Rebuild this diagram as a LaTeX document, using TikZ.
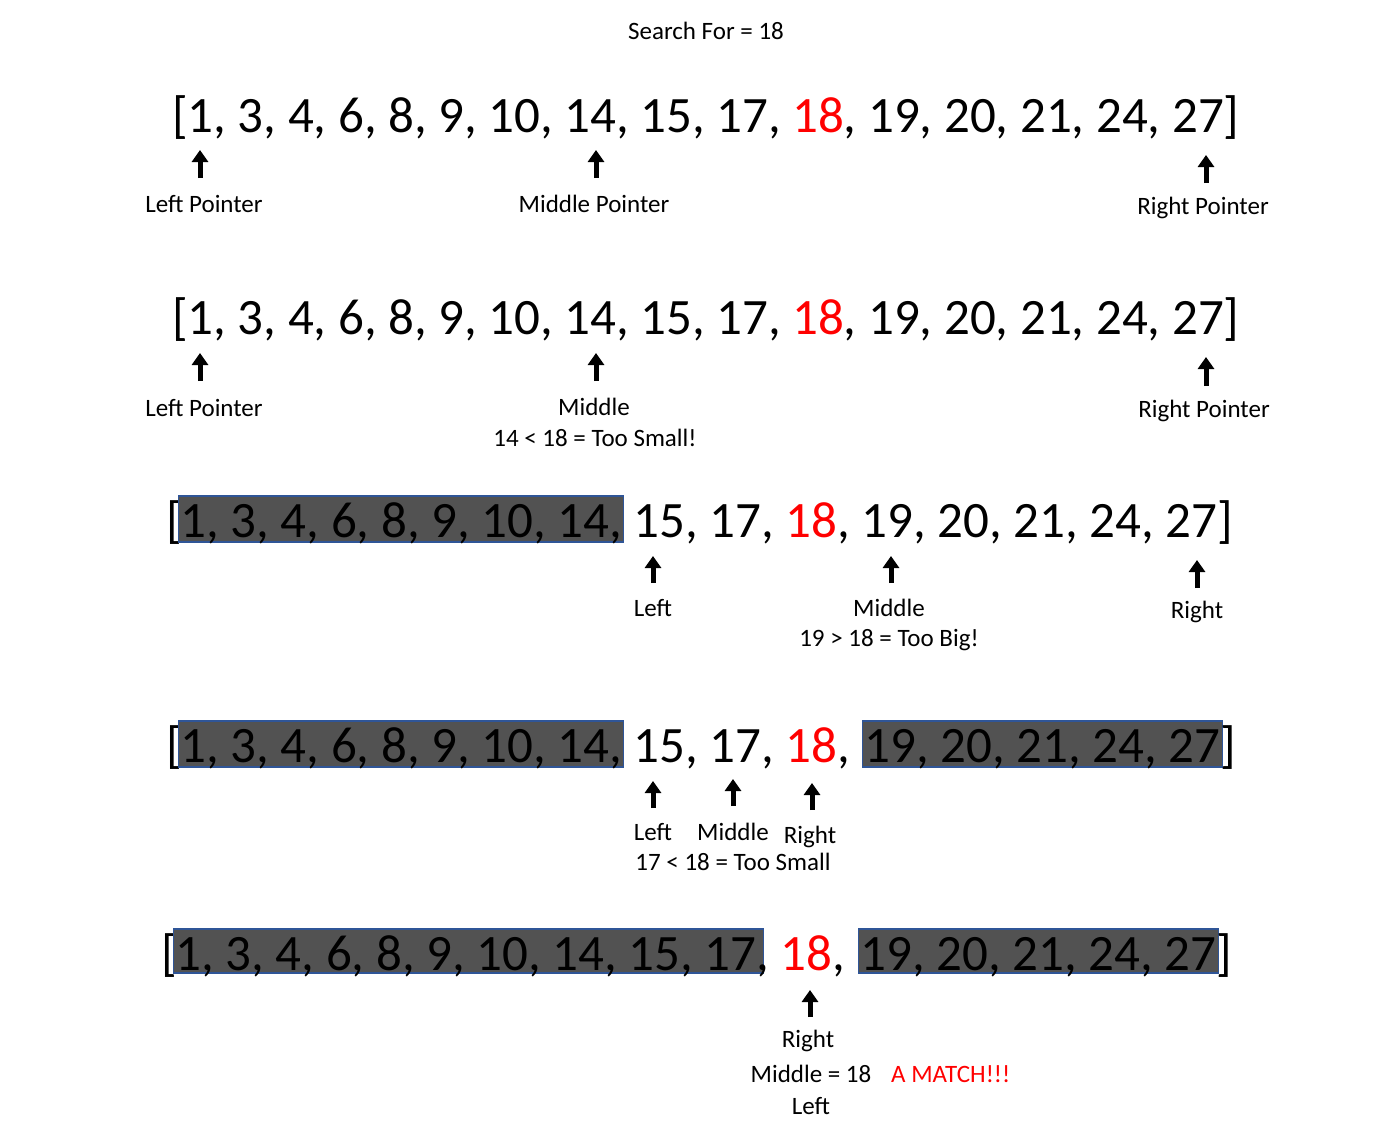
\documentclass[tikz,border=0pt]{standalone}
\usepackage{fontspec}
\setmainfont{Carlito}
\usetikzlibrary{arrows.meta}
\definecolor{hlgray}{HTML}{525252}
\definecolor{hlblue}{HTML}{2F5597}
\definecolor{hit}{HTML}{FF0000}
\newcommand\arrfont{\fontsize{51}{60}\selectfont}
\newcommand\lblfont{\fontsize{25}{30}\selectfont}
\newcommand\hitnum[1]{\textcolor{hit}{#1}}
\newcommand\wsp{\kern\fontdimen2\font}
\begin{document}
\begin{tikzpicture}[x=1pt,y=-1pt,
  arr/.style={font=\arrfont, inner sep=0pt, anchor=base west},
  hlbox/.style={arr, fill=hlgray, draw=hlblue, line width=1.2pt, inner xsep=2pt, inner ysep=0pt, text height=41pt, text depth=5pt},
  lbl/.style={font=\lblfont, inner sep=0pt, anchor=base},
  ptr/.style={line width=5pt, -{Triangle[width=16pt,length=12pt]}}]
\useasboundingbox (0,0) rectangle (1400,1129);
\fill[white] (0,0) rectangle (1400,1129);

% title
\node[lbl] (title) at (706,40) {Search For = 18};

% ---------- row 1
\node[arr] (r1) at (172,132) {[1, 3, 4, 6, 8, 9, 10, 14, 15, 17, \hitnum{18}, 19, 20, 21, 24, 27]};
\coordinate (p1a0) at (200,178); \coordinate (p1a1) at (200,150);
\coordinate (p1b0) at (596,178); \coordinate (p1b1) at (596,150);
\coordinate (p1c0) at (1206,183); \coordinate (p1c1) at (1206,155);
\draw[ptr] (p1a0) -- (p1a1);
\draw[ptr] (p1b0) -- (p1b1);
\draw[ptr] (p1c0) -- (p1c1);
\node[lbl] (l1a) at (204,212) {Left Pointer};
\node[lbl] (l1b) at (594,212) {Middle Pointer};
\node[lbl] (l1c) at (1203,214) {Right Pointer};

% ---------- row 2
\node[arr] (r2) at (172,334) {[1, 3, 4, 6, 8, 9, 10, 14, 15, 17, \hitnum{18}, 19, 20, 21, 24, 27]};
\coordinate (p2a0) at (200,381); \coordinate (p2a1) at (200,353);
\coordinate (p2b0) at (596,381); \coordinate (p2b1) at (596,353);
\coordinate (p2c0) at (1206,386); \coordinate (p2c1) at (1206,357);
\draw[ptr] (p2a0) -- (p2a1);
\draw[ptr] (p2b0) -- (p2b1);
\draw[ptr] (p2c0) -- (p2c1);
\node[lbl] (l2a) at (204,416) {Left Pointer};
\node[lbl] (l2b) at (594,415) {Middle};
\node[lbl] (l2d) at (595,446) {14 < 18 = Too Small!};
\node[lbl] (l2c) at (1204,417) {Right Pointer};

% ---------- row 3
\node[arr] (r3a) at (166,537) {[};
\node[hlbox] (r3b) at ([xshift=-4pt]r3a.base east) {1, 3, 4, 6, 8, 9, 10, 14,};
\node[arr] (r3c) at ([xshift=-2pt]r3b.base east) {~15, 17, \hitnum{18}, 19, 20, 21, 24, 27]};
\coordinate (p3a0) at (653,583); \coordinate (p3a1) at (653,556);
\coordinate (p3b0) at (891,583); \coordinate (p3b1) at (891,556);
\coordinate (p3c0) at (1197,588); \coordinate (p3c1) at (1197,560);
\draw[ptr] (p3a0) -- (p3a1);
\draw[ptr] (p3b0) -- (p3b1);
\draw[ptr] (p3c0) -- (p3c1);
\node[lbl] (l3a) at (653,616) {Left};
\node[lbl] (l3b) at (889,616) {Middle};
\node[lbl] (l3d) at (889,646) {19 > 18 = Too Big!};
\node[lbl] (l3c) at (1197,618) {Right};

% ---------- row 4
\node[arr] (r4a) at (166,762) {[};
\node[hlbox] (r4b) at ([xshift=-4pt]r4a.base east) {1, 3, 4, 6, 8, 9, 10, 14,};
\node[arr] (r4c) at ([xshift=-2pt]r4b.base east) {~15, 17, \hitnum{18},\wsp};
\node[hlbox] (r4d) at (r4c.base east) {19, 20, 21, 24, 27};
\node[arr] (r4e) at ([xshift=-2pt]r4d.base east) {]};
\coordinate (p4a0) at (653,808); \coordinate (p4a1) at (653,781);
\coordinate (p4b0) at (733,806); \coordinate (p4b1) at (733,779);
\coordinate (p4c0) at (812,810); \coordinate (p4c1) at (812,783);
\draw[ptr] (p4a0) -- (p4a1);
\draw[ptr] (p4b0) -- (p4b1);
\draw[ptr] (p4c0) -- (p4c1);
\node[lbl] (l4a) at (653,840) {Left};
\node[lbl] (l4b) at (733,840) {Middle};
\node[lbl] (l4c) at (810,843) {Right};
\node[lbl] (l4d) at (733,870) {17 < 18 = Too Small};

% ---------- row 5
\node[arr] (r5a) at (161,970) {[};
\node[hlbox, text depth=3pt] (r5b) at ([xshift=-4pt]r5a.base east) {1, 3, 4, 6, 8, 9, 10, 14, 15, 17\kern6pt};
\node[arr] (r5c) at ([xshift=-8pt]r5b.base east) {,~\hitnum{18},\wsp};
\node[hlbox, text depth=3pt] (r5d) at ([xshift=1pt]r5c.base east) {19, 20, 21, 24, 27};
\node[arr] (r5e) at ([xshift=-2pt]r5d.base east) {]};
\coordinate (p5a0) at (810,1017); \coordinate (p5a1) at (810,990);
\draw[ptr] (p5a0) -- (p5a1);
\node[lbl] (l5a) at (808,1047) {Right};
\node[lbl] (l5b) at (811,1082) {Middle = 18};
\node[lbl, anchor=base west, text=hit] (l5m) at (891,1082) {A MATCH!!!};
\node[lbl] (l5c) at (811,1114) {Left};
\end{tikzpicture}
\end{document}
